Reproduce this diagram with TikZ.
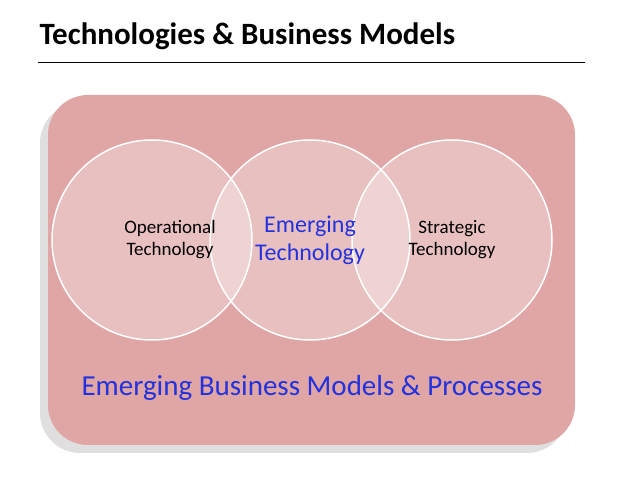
\documentclass[tikz,border=0pt]{standalone}
\usepackage{fontspec}
\setmainfont{Carlito}
\definecolor{bgpink}{RGB}{224,166,166}
\definecolor{txtblue}{RGB}{35,50,220}
\begin{document}
\begin{tikzpicture}[x=1pt,y=-1pt,
  circ/.style={circle,minimum size=200pt,draw=white,line width=1.5pt,fill=white,fill opacity=0.3,text opacity=1},
  lbl/.style={align=center,font=\fontsize{19}{22}\selectfont},
  blue/.style={text=txtblue}]
\useasboundingbox (0,0) rectangle (638,478);
\node[anchor=base west,font=\bfseries\fontsize{31}{36}\selectfont] (title) at (36,45) {Technologies \& Business Models};
\coordinate (l1) at (38,62); \coordinate (l2) at (585,62);
\draw[line width=0.8pt] (l1) -- (l2);
\fill[gray!25,rounded corners=40pt] (40,103) rectangle (567,453);
\node[draw=none,rounded corners=40pt,minimum width=527pt,minimum height=350pt,fill=bgpink] (bg) at (311.5,270) {};
\node[circ] (c1) at (152,240) {};
\node[circ] (c2) at (310,240) {};
\node[circ] (c3) at (452,240) {};
\node[lbl] (t1) at (170,240) {Operational\\Technology};
\node[lbl,blue,font=\fontsize{24}{28}\selectfont] (t2) at (310,240) {Emerging\\Technology};
\node[lbl] (t3) at (452,240) {Strategic\\Technology};
\node[blue,font=\fontsize{29}{33}\selectfont] (bt) at (312,388) {Emerging Business Models \& Processes};
\end{tikzpicture}
\end{document}
